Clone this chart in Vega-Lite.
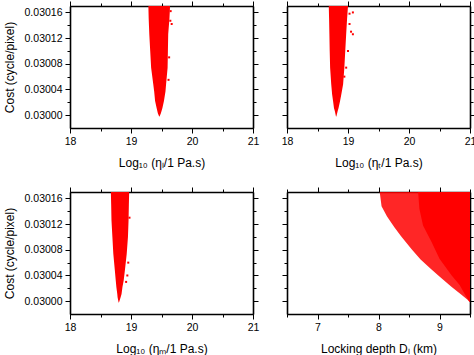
{
  "$schema": "https://vega.github.io/schema/vega-lite/v6.json",
  "padding": {"left": 2, "top": 0, "right": 0, "bottom": 0},
  "bounds": "flush",
  "columns": 2,
  "spacing": {"row": 64, "column": 34},
  "config": {
    "font": "Liberation Sans",
    "view": {"stroke": "#000", "strokeWidth": 1},
    "axis": {
      "grid": false,
      "domainColor": "#000",
      "domainWidth": 1.6,
      "tickColor": "#000",
      "tickWidth": 1,
      "labelFont": "Liberation Sans",
      "labelFontSize": 10.5,
      "labelColor": "#000",
      "labelPadding": 3,
      "labelFlush": false,
      "labelOverlap": false,
      "titleFont": "Liberation Sans",
      "titleFontSize": 12,
      "titleFontWeight": "normal",
      "titleColor": "#000"
    }
  },
  "datasets": {
    "envL": [
      {"cost": 0.029998, "lo": 19.462, "hi": 19.468},
      {"cost": 0.030003, "lo": 19.44, "hi": 19.49},
      {"cost": 0.030011, "lo": 19.42, "hi": 19.515},
      {"cost": 0.030022, "lo": 19.395, "hi": 19.54},
      {"cost": 0.030037, "lo": 19.38, "hi": 19.565},
      {"cost": 0.030048, "lo": 19.365, "hi": 19.575},
      {"cost": 0.030074, "lo": 19.33, "hi": 19.6},
      {"cost": 0.0301, "lo": 19.315, "hi": 19.605},
      {"cost": 0.030126, "lo": 19.3, "hi": 19.61},
      {"cost": 0.03015, "lo": 19.29, "hi": 19.63},
      {"cost": 0.03017, "lo": 19.285, "hi": 19.64}
    ],
    "outL": [
      {"x": 19.667, "cost": 0.030142},
      {"x": 19.645, "cost": 0.030147},
      {"x": 19.625, "cost": 0.03009},
      {"x": 19.615, "cost": 0.030055},
      {"x": 19.65, "cost": 0.030162}
    ],
    "envT": [
      {"cost": 0.029998, "lo": 18.803, "hi": 18.809},
      {"cost": 0.030006, "lo": 18.785, "hi": 18.83},
      {"cost": 0.030011, "lo": 18.77, "hi": 18.845},
      {"cost": 0.030022, "lo": 18.755, "hi": 18.87},
      {"cost": 0.030032, "lo": 18.74, "hi": 18.89},
      {"cost": 0.030048, "lo": 18.725, "hi": 18.92},
      {"cost": 0.030074, "lo": 18.707, "hi": 18.94},
      {"cost": 0.0301, "lo": 18.7, "hi": 18.955},
      {"cost": 0.030126, "lo": 18.695, "hi": 18.97},
      {"cost": 0.03015, "lo": 18.69, "hi": 18.985},
      {"cost": 0.03017, "lo": 18.685, "hi": 19.0}
    ],
    "outT": [
      {"x": 19.08, "cost": 0.030126},
      {"x": 19.05, "cost": 0.03013},
      {"x": 19.025, "cost": 0.030142},
      {"x": 19.025, "cost": 0.030158},
      {"x": 19.0, "cost": 0.0301},
      {"x": 18.97, "cost": 0.030074},
      {"x": 18.94, "cost": 0.03006},
      {"x": 19.08, "cost": 0.03016}
    ],
    "envM": [
      {"cost": 0.029998, "lo": 18.797, "hi": 18.803},
      {"cost": 0.030006, "lo": 18.78, "hi": 18.83},
      {"cost": 0.030011, "lo": 18.775, "hi": 18.845},
      {"cost": 0.030022, "lo": 18.76, "hi": 18.86},
      {"cost": 0.030032, "lo": 18.75, "hi": 18.88},
      {"cost": 0.030048, "lo": 18.735, "hi": 18.9},
      {"cost": 0.030074, "lo": 18.71, "hi": 18.93},
      {"cost": 0.0301, "lo": 18.695, "hi": 18.95},
      {"cost": 0.030126, "lo": 18.68, "hi": 18.96},
      {"cost": 0.03015, "lo": 18.675, "hi": 18.965},
      {"cost": 0.03017, "lo": 18.67, "hi": 18.97}
    ],
    "outM": [
      {"x": 18.955, "cost": 0.03006},
      {"x": 18.94, "cost": 0.03004},
      {"x": 18.92, "cost": 0.03003},
      {"x": 18.975, "cost": 0.03013}
    ],
    "envD": [
      {"cost": 0.029999, "lo": 9.49, "hi": 9.5},
      {"cost": 0.030002, "lo": 9.46, "hi": 9.5},
      {"cost": 0.03001, "lo": 9.36, "hi": 9.5},
      {"cost": 0.030023, "lo": 9.19, "hi": 9.5},
      {"cost": 0.030039, "lo": 8.99, "hi": 9.5},
      {"cost": 0.03005, "lo": 8.86, "hi": 9.5},
      {"cost": 0.030065, "lo": 8.69, "hi": 9.5},
      {"cost": 0.03008, "lo": 8.55, "hi": 9.5},
      {"cost": 0.030101, "lo": 8.37, "hi": 9.5},
      {"cost": 0.030115, "lo": 8.26, "hi": 9.5},
      {"cost": 0.030132, "lo": 8.14, "hi": 9.5},
      {"cost": 0.030148, "lo": 8.05, "hi": 9.5},
      {"cost": 0.03017, "lo": 8.02, "hi": 9.5}
    ],
    "denseD": [
      {"cost": 0.029999, "lo": 9.49, "hi": 9.5},
      {"cost": 0.03001, "lo": 9.42, "hi": 9.5},
      {"cost": 0.030025, "lo": 9.33, "hi": 9.5},
      {"cost": 0.03004, "lo": 9.2, "hi": 9.5},
      {"cost": 0.030066, "lo": 9.0, "hi": 9.5},
      {"cost": 0.030092, "lo": 8.87, "hi": 9.5},
      {"cost": 0.030118, "lo": 8.73, "hi": 9.5},
      {"cost": 0.030144, "lo": 8.67, "hi": 9.5},
      {"cost": 0.03017, "lo": 8.65, "hi": 9.5}
    ]
  },
  "concat": [
    {
      "width": 183, "height": 122,
      "resolve": {"axis": {"x": "independent", "y": "independent"}},
      "layer": [
        {
          "data": {"name": "envL"},
          "mark": {"type": "area", "orient": "horizontal", "color": "#ff0000", "clip": true},
          "encoding": {
            "y": {"field": "cost", "type": "quantitative", "scale": {"domain": [0.02998, 0.03017], "nice": false, "zero": false},
              "axis": {"orient": "left", "values": [0.03, 0.03002, 0.03004, 0.03006, 0.03008, 0.0301, 0.03012, 0.03014, 0.03016],
                "tickSize": {"condition": {"test": "round(datum.value*100000) % 4 === 0", "value": 5}, "value": 3},
                "labelExpr": "round(datum.value*100000) % 4 === 0 ? format(datum.value, '.5f') : ''",
                "title": "Cost (cycle/pixel)", "titlePadding": 8}},
            "x": {"field": "lo", "type": "quantitative", "scale": {"domain": [18, 21], "nice": false, "zero": false},
              "axis": {"orient": "bottom", "values": [18, 18.5, 19, 19.5, 20, 20.5, 21],
                "tickSize": {"condition": {"test": "datum.value % 1 === 0", "value": 5}, "value": 3},
                "labelExpr": "datum.value % 1 === 0 ? format(datum.value, 'd') : ''",
                "title": "Log₁₀ (ηₗ/1 Pa.s)", "titlePadding": 11}},
            "x2": {"field": "hi"}
          }
        },
        {
          "data": {"name": "outL"},
          "mark": {"type": "square", "color": "#ff0000", "size": 4, "opacity": 1, "clip": true},
          "encoding": {
            "y": {"field": "cost", "type": "quantitative",
              "axis": {"orient": "right", "values": [0.03, 0.03002, 0.03004, 0.03006, 0.03008, 0.0301, 0.03012, 0.03014, 0.03016],
                "tickSize": {"condition": {"test": "round(datum.value*100000) % 4 === 0", "value": 5}, "value": 3},
                "labels": false, "title": null}},
            "x": {"field": "x", "type": "quantitative",
              "axis": {"orient": "top", "values": [18, 18.5, 19, 19.5, 20, 20.5, 21],
                "tickSize": {"condition": {"test": "datum.value % 1 === 0", "value": 5}, "value": 3},
                "labels": false, "title": null}}
          }
        }
      ]
    },
    {
      "width": 183, "height": 122,
      "resolve": {"axis": {"x": "independent", "y": "independent"}},
      "layer": [
        {
          "data": {"name": "envT"},
          "mark": {"type": "area", "orient": "horizontal", "color": "#ff0000", "clip": true},
          "encoding": {
            "y": {"field": "cost", "type": "quantitative", "scale": {"domain": [0.02998, 0.03017], "nice": false, "zero": false},
              "axis": {"orient": "left", "values": [0.03, 0.03002, 0.03004, 0.03006, 0.03008, 0.0301, 0.03012, 0.03014, 0.03016],
                "tickSize": {"condition": {"test": "round(datum.value*100000) % 4 === 0", "value": 5}, "value": 3},
                "labels": false, "title": null}},
            "x": {"field": "lo", "type": "quantitative", "scale": {"domain": [18, 21], "nice": false, "zero": false},
              "axis": {"orient": "bottom", "values": [18, 18.5, 19, 19.5, 20, 20.5, 21],
                "tickSize": {"condition": {"test": "datum.value % 1 === 0", "value": 5}, "value": 3},
                "labelExpr": "datum.value % 1 === 0 ? format(datum.value, 'd') : ''",
                "title": "Log₁₀ (ηₜ/1 Pa.s)", "titlePadding": 11}},
            "x2": {"field": "hi"}
          }
        },
        {
          "data": {"name": "outT"},
          "mark": {"type": "square", "color": "#ff0000", "size": 4, "opacity": 1, "clip": true},
          "encoding": {
            "y": {"field": "cost", "type": "quantitative",
              "axis": {"orient": "right", "values": [0.03, 0.03002, 0.03004, 0.03006, 0.03008, 0.0301, 0.03012, 0.03014, 0.03016],
                "tickSize": {"condition": {"test": "round(datum.value*100000) % 4 === 0", "value": 5}, "value": 3},
                "labels": false, "title": null}},
            "x": {"field": "x", "type": "quantitative",
              "axis": {"orient": "top", "values": [18, 18.5, 19, 19.5, 20, 20.5, 21],
                "tickSize": {"condition": {"test": "datum.value % 1 === 0", "value": 5}, "value": 3},
                "labels": false, "title": null}}
          }
        }
      ]
    },
    {
      "width": 183, "height": 122,
      "resolve": {"axis": {"x": "independent", "y": "independent"}},
      "layer": [
        {
          "data": {"name": "envM"},
          "mark": {"type": "area", "orient": "horizontal", "color": "#ff0000", "clip": true},
          "encoding": {
            "y": {"field": "cost", "type": "quantitative", "scale": {"domain": [0.02998, 0.03017], "nice": false, "zero": false},
              "axis": {"orient": "left", "values": [0.03, 0.03002, 0.03004, 0.03006, 0.03008, 0.0301, 0.03012, 0.03014, 0.03016],
                "tickSize": {"condition": {"test": "round(datum.value*100000) % 4 === 0", "value": 5}, "value": 3},
                "labelExpr": "round(datum.value*100000) % 4 === 0 ? format(datum.value, '.5f') : ''",
                "title": "Cost (cycle/pixel)", "titlePadding": 8}},
            "x": {"field": "lo", "type": "quantitative", "scale": {"domain": [18, 21], "nice": false, "zero": false},
              "axis": {"orient": "bottom", "values": [18, 18.5, 19, 19.5, 20, 20.5, 21],
                "tickSize": {"condition": {"test": "datum.value % 1 === 0", "value": 5}, "value": 3},
                "labelExpr": "datum.value % 1 === 0 ? format(datum.value, 'd') : ''",
                "title": "Log₁₀ (ηₘ/1 Pa.s)", "titlePadding": 11}},
            "x2": {"field": "hi"}
          }
        },
        {
          "data": {"name": "outM"},
          "mark": {"type": "square", "color": "#ff0000", "size": 4, "opacity": 1, "clip": true},
          "encoding": {
            "y": {"field": "cost", "type": "quantitative",
              "axis": {"orient": "right", "values": [0.03, 0.03002, 0.03004, 0.03006, 0.03008, 0.0301, 0.03012, 0.03014, 0.03016],
                "tickSize": {"condition": {"test": "round(datum.value*100000) % 4 === 0", "value": 5}, "value": 3},
                "labels": false, "title": null}},
            "x": {"field": "x", "type": "quantitative",
              "axis": {"orient": "top", "values": [18, 18.5, 19, 19.5, 20, 20.5, 21],
                "tickSize": {"condition": {"test": "datum.value % 1 === 0", "value": 5}, "value": 3},
                "labels": false, "title": null}}
          }
        }
      ]
    },
    {
      "width": 183, "height": 122,
      "resolve": {"axis": {"x": "independent", "y": "independent"}},
      "layer": [
        {
          "data": {"name": "envD"},
          "mark": {"type": "area", "orient": "horizontal", "color": "#ff0000", "opacity": 0.85, "clip": true},
          "encoding": {
            "y": {"field": "cost", "type": "quantitative", "scale": {"domain": [0.02998, 0.03017], "nice": false, "zero": false},
              "axis": {"orient": "left", "values": [0.03, 0.03002, 0.03004, 0.03006, 0.03008, 0.0301, 0.03012, 0.03014, 0.03016],
                "tickSize": {"condition": {"test": "round(datum.value*100000) % 4 === 0", "value": 5}, "value": 3},
                "labels": false, "title": null}},
            "x": {"field": "lo", "type": "quantitative", "scale": {"domain": [6.5, 9.5], "nice": false, "zero": false},
              "axis": {"orient": "bottom", "values": [6.5, 7, 7.5, 8, 8.5, 9, 9.5],
                "tickSize": {"condition": {"test": "datum.value % 1 === 0", "value": 5}, "value": 3},
                "labelExpr": "datum.value % 1 === 0 ? format(datum.value, 'd') : ''",
                "title": "Locking depth Dₗ (km)", "titlePadding": 11}},
            "x2": {"field": "hi"}
          }
        },
        {
          "data": {"name": "denseD"},
          "mark": {"type": "area", "orient": "horizontal", "color": "#ff0000", "opacity": 1, "clip": true},
          "encoding": {
            "y": {"field": "cost", "type": "quantitative",
              "axis": {"orient": "right", "values": [0.03, 0.03002, 0.03004, 0.03006, 0.03008, 0.0301, 0.03012, 0.03014, 0.03016],
                "tickSize": {"condition": {"test": "round(datum.value*100000) % 4 === 0", "value": 5}, "value": 3},
                "labels": false, "title": null}},
            "x": {"field": "lo", "type": "quantitative",
              "axis": {"orient": "top", "values": [6.5, 7, 7.5, 8, 8.5, 9, 9.5],
                "tickSize": {"condition": {"test": "datum.value % 1 === 0", "value": 5}, "value": 3},
                "labels": false, "title": null}},
            "x2": {"field": "hi"}
          }
        }
      ]
    }
  ]
}
